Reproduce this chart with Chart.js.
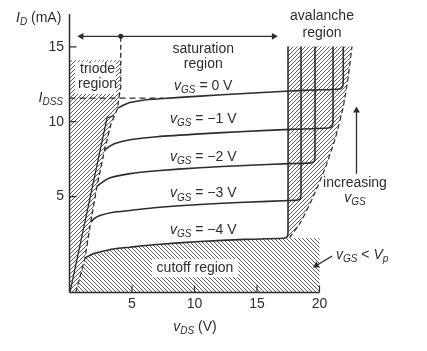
<!DOCTYPE html>
<html>
<head>
<meta charset="utf-8">
<script src="https://cdn.jsdelivr.net/npm/chart.js@4.4.1/dist/chart.umd.min.js"></script>
<style>
html, body { margin: 0; padding: 0; background: #fff; }
</style>
</head>
<body>
<canvas id="jfetChart" width="427" height="351"></canvas>
<script>
// axes
const VDS_TICKS = [5, 10, 15, 20];
const ID_TICKS = [5, 10, 15];
const X_MIN = 0, X_MAX = 28;
const Y_MIN = -1.4, Y_MAX = 17.2;

// drain curves [vDS (V), iD (mA)], one per vGS
const VGS_0 = [[3.85, 10.9], [4.3, 11.1], [4.84, 11.28], [6, 11.45], [7.24, 11.53], [10.44, 11.71], [14, 11.88], [17.64, 12.05], [20, 12.13], [21.6, 12.18], [21.85, 12.35], [21.9, 12.8], [21.9, 15.03]];
const VGS_1 = [[2.8, 8.1], [3.2, 8.35], [3.64, 8.55], [4.84, 8.8], [7, 9.0], [10.44, 9.19], [14, 9.35], [17.64, 9.49], [20.7, 9.58], [21.0, 9.7], [21.08, 10.0], [21.08, 15.03]];
const VGS_2 = [[2.2, 5.7], [2.7, 6.0], [3.24, 6.25], [4.84, 6.53], [7, 6.72], [10.44, 6.93], [14, 7.08], [17.64, 7.2], [19.3, 7.25], [19.58, 7.35], [19.64, 7.65], [19.64, 15.03]];
const VGS_3 = [[1.7, 3.3], [2.0, 3.55], [2.44, 3.74], [3.5, 3.95], [4.84, 4.07], [7, 4.27], [10.44, 4.47], [14, 4.62], [17.64, 4.74], [18.2, 4.76], [18.46, 4.85], [18.52, 5.15], [18.52, 15.03]];
const VGS_4 = [[1.24, 0.9], [1.8, 1.15], [2.44, 1.3], [3.5, 1.5], [4.84, 1.62], [7, 1.8], [10.44, 2.0], [14, 2.14], [17.1, 2.22], [17.4, 2.3], [17.48, 2.6], [17.48, 15.03]];

// region boundaries
const TRIODE_EDGE = [[0.05, -1.35], [3.0, 10.25], [3.55, 10.4]];
const PINCH_OFF = [[0.5, -1.4], [1.24, 0.9], [1.7, 3.3], [2.2, 5.7], [2.8, 8.1], [3.3, 9.8], [3.85, 10.9], [3.95, 11.6], [4.1, 12.3], [4.1, 15.7]];
const IDSS_LINE = [[0, 11.58], [7.5, 11.58]];
const AVALANCHE_EDGE = [[17.6, 2.25], [18.5, 3.3], [19.5, 5.0], [20.5, 7.0], [21.3, 9.0], [21.9, 11.0], [22.3, 13.0], [22.6, 15.03]];

const TRIODE_AREA = [[0, -1.4], [0, 14.1], [4.1, 14.1], [4.1, 12.3], [3.95, 11.6], [3.85, 10.9], [3.3, 9.8], [2.8, 8.1], [2.2, 5.7], [1.7, 3.3], [1.24, 0.9], [0.5, -1.4]];
const CUTOFF_AREA = [[1.24, 0.9], [1.8, 1.15], [2.44, 1.3], [3.5, 1.5], [4.84, 1.62], [7, 1.8], [10.44, 2.0], [14, 2.14], [17.1, 2.22], [20, 2.22], [20, -1.4], [0.5, -1.4]];
const AVALANCHE_AREA = [[17.48, 2.3], [17.48, 15.03], [22.6, 15.03], [22.3, 13.0], [21.9, 11.0], [21.3, 9.0], [20.5, 7.0], [19.5, 5.0], [18.5, 3.3], [17.6, 2.25]];

// arrows
const SAT_LEFT = [[4.1, 15.7], [0.95, 15.7]];
const SAT_RIGHT = [[4.1, 15.7], [16.35, 15.7]];
const INCREASING = [[22.96, 6.52], [22.96, 10.75]];
const CUTOFF_POINTER = [[21.0, 1.02], [19.75, 0.4]];

const INK = '#2d2d2d';
const FONT = '"Liberation Sans", Arial, Helvetica, sans-serif';

const LABELS = [
  { at: [10.7, 14.82], parts: [['saturation', 'n']] },
  { at: [10.7, 13.83], parts: [['region', 'n']] },
  { at: [20.2, 17.03], parts: [['avalanche', 'n']] },
  { at: [20.2, 15.9], parts: [['region', 'n']] },
  { at: [2.24, 13.5], parts: [['triode', 'n']] },
  { at: [2.24, 12.5], parts: [['region', 'n']] },
  { at: [10.7, 12.38], parts: [['v', 'i'], ['GS', 's'], [' = 0 V', 'n']] },
  { at: [10.7, 10.18], parts: [['v', 'i'], ['GS', 's'], [' = \u22121 V', 'n']] },
  { at: [10.7, 7.66], parts: [['v', 'i'], ['GS', 's'], [' = \u22122 V', 'n']] },
  { at: [10.7, 5.2], parts: [['v', 'i'], ['GS', 's'], [' = \u22123 V', 'n']] },
  { at: [10.7, 2.74], parts: [['v', 'i'], ['GS', 's'], [' = \u22124 V', 'n']] },
  { at: [10.04, 0.22], parts: [['cutoff region', 'n']] },
  { at: [22.84, 5.92], parts: [['increasing', 'n']] },
  { at: [22.84, 4.87], parts: [['v', 'i'], ['GS', 's']] },
  { at: [21.32, 1.08], parts: [['v', 'i'], ['GS', 's'], [' < ', 'n'], ['V', 'i'], ['p', 's']], align: 'left' },
  { at: [-0.52, 11.58], parts: [['I', 'i'], ['DSS', 's']], align: 'right' },
  { at: [-4.28, 16.9], parts: [['I', 'i'], ['D', 's'], [' (mA)', 'n']], align: 'left' },
  { at: [10.04, -3.7], parts: [['v', 'i'], ['DS', 's'], [' (V)', 'n']] }
];
const WHITE_BOXES = [[0.45, 14.0, 3.7, 11.85], [6.6, 0.82, 13.5, -0.38]];

function hatch(dir) {
  const s = 4;
  const c = document.createElement('canvas');
  c.width = s; c.height = s;
  const g = c.getContext('2d');
  g.strokeStyle = '#5c5c5c';
  g.lineWidth = 1;
  g.beginPath();
  if (dir === '/') {
    g.moveTo(0, s); g.lineTo(s, 0);
    g.moveTo(-1, 1); g.lineTo(1, -1);
    g.moveTo(s - 1, s + 1); g.lineTo(s + 1, s - 1);
  } else {
    g.moveTo(0, 0); g.lineTo(s, s);
    g.moveTo(-1, s - 1); g.lineTo(1, s + 1);
    g.moveTo(s - 1, -1); g.lineTo(s + 1, 1);
  }
  g.stroke();
  return document.getElementById('jfetChart').getContext('2d').createPattern(c, 'repeat');
}

function pts(arr) {
  return arr.map(([x, y]) => ({ x, y }));
}

function line(arr, opts) {
  return Object.assign({
    data: pts(arr),
    borderColor: INK,
    borderWidth: 1.6,
    pointRadius: 0,
    fill: false,
    tension: 0.25,
    order: 1,
    clip: false
  }, opts || {});
}

function area(arr, pattern) {
  return line(arr, { backgroundColor: pattern, borderWidth: 0, borderColor: 'rgba(0,0,0,0)', fill: 'shape', tension: 0, order: 10 });
}

function arrow(arr, rot) {
  return line(arr, {
    borderWidth: 1.3,
    tension: 0,
    pointRadius: [0, 4],
    pointStyle: 'triangle',
    pointRotation: [0, rot],
    pointBackgroundColor: INK,
    pointBorderColor: INK,
    pointBorderWidth: 0
  });
}

function drawRich(ctx, x, y, parts, align, size) {
  const sub = Math.round(size * 0.72);
  const fonts = { n: `${size}px ${FONT}`, i: `italic ${size}px ${FONT}`, s: `italic ${sub}px ${FONT}` };
  let w = 0;
  const widths = parts.map(([t, k]) => {
    ctx.font = fonts[k];
    const m = ctx.measureText(t).width;
    w += m;
    return m;
  });
  let cx = align === 'left' ? x : align === 'right' ? x - w : x - w / 2;
  ctx.fillStyle = INK;
  ctx.textBaseline = 'middle';
  ctx.textAlign = 'left';
  parts.forEach(([t, k], i) => {
    ctx.font = fonts[k];
    ctx.fillText(t, cx, y + (k === 's' ? size * 0.3 : 0));
    cx += widths[i];
  });
}

const decor = {
  id: 'decor',
  afterDatasetsDraw(chart) {
    const { ctx, scales: { x, y } } = chart;
    const px = v => x.getPixelForValue(v);
    const py = v => y.getPixelForValue(v);
    ctx.save();
    ctx.fillStyle = '#fff';
    WHITE_BOXES.forEach(([x0, y0, x1, y1]) => {
      ctx.fillRect(px(x0), py(y0), px(x1) - px(x0), py(y1) - py(y0));
    });
    // tick marks point into the plot
    ctx.strokeStyle = INK;
    ctx.lineWidth = 1.2;
    ctx.beginPath();
    ID_TICKS.forEach(v => { ctx.moveTo(px(0), py(v)); ctx.lineTo(px(0) + 7, py(v)); });
    VDS_TICKS.forEach(v => { ctx.moveTo(px(v), py(Y_MIN)); ctx.lineTo(px(v), py(Y_MIN) - 7); });
    ctx.stroke();
    LABELS.forEach(l => drawRich(ctx, px(l.at[0]), py(l.at[1]), l.parts, l.align || 'center', 14));
    ctx.restore();
  }
};

const ctx = document.getElementById('jfetChart').getContext('2d');
const fwd = hatch('/');
const back = hatch('\\');

new Chart(ctx, {
  type: 'line',
  data: {
    datasets: [
      area(TRIODE_AREA, fwd),
      area(CUTOFF_AREA, back),
      area(AVALANCHE_AREA, fwd),
      line([[0, Y_MIN], [0, Y_MAX]], { tension: 0, borderWidth: 1.5 }),
      line([[0, Y_MIN], [20, Y_MIN]], { tension: 0, borderWidth: 1.5 }),
      line(VGS_0),
      line(VGS_1),
      line(VGS_2),
      line(VGS_3),
      line(VGS_4),
      line(TRIODE_EDGE, { tension: 0, borderWidth: 1.3 }),
      line(PINCH_OFF, { tension: 0, borderWidth: 1.3, borderDash: [5, 3] }),
      line(IDSS_LINE, { tension: 0, borderWidth: 1.3, borderDash: [6, 4] }),
      line(AVALANCHE_EDGE, { tension: 0.2, borderWidth: 1.2, borderDash: [5, 3] }),
      arrow(SAT_LEFT, 270),
      arrow(SAT_RIGHT, 90),
      arrow(INCREASING, 0),
      arrow(CUTOFF_POINTER, 240),
      line([[4.1, 15.7]], { pointRadius: 2.5, pointBackgroundColor: INK, pointBorderWidth: 0 })
    ]
  },
  options: {
    responsive: false,
    animation: false,
    devicePixelRatio: 1,
    layout: { padding: { top: 12.4, right: 7.5, left: 0, bottom: 0 } },
    plugins: { legend: { display: false }, tooltip: { enabled: false } },
    scales: {
      x: {
        type: 'linear',
        min: X_MIN,
        max: X_MAX,
        grid: { display: false, drawTicks: false },
        border: { display: false },
        ticks: { padding: 3, color: INK, font: { size: 14, family: FONT } },
        afterBuildTicks: s => { s.ticks = VDS_TICKS.map(v => ({ value: v })); },
        afterFit: s => { s.height = 58.6; }
      },
      y: {
        type: 'linear',
        min: Y_MIN,
        max: Y_MAX,
        grid: { display: false, drawTicks: false },
        border: { display: false },
        ticks: { padding: 5.5, color: INK, font: { size: 14, family: FONT } },
        afterBuildTicks: s => { s.ticks = ID_TICKS.map(v => ({ value: v })); },
        afterFit: s => { s.width = 69.5; }
      }
    }
  },
  plugins: [decor]
});
</script>
</body>
</html>
